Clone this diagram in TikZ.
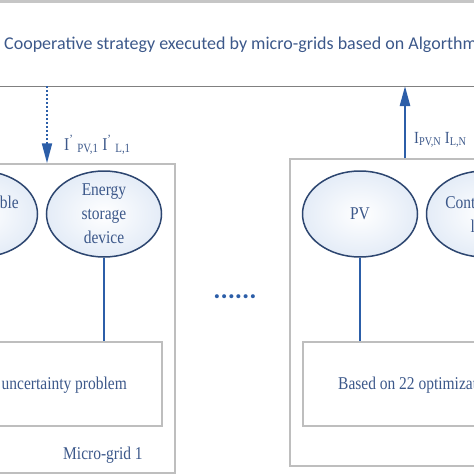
\documentclass[tikz,border=0pt]{standalone}
\usepackage{fontspec}
\setmainfont{Liberation Serif}[FakeStretch=0.86]
\newfontfamily\titlefont{Carlito}
\usetikzlibrary{arrows.meta,shapes,positioning}
\definecolor{txtblue}{RGB}{60,88,138}
\definecolor{lineblue}{RGB}{44,94,168}
\definecolor{ellblue}{RGB}{45,70,112}
\definecolor{boxgray}{RGB}{190,190,190}
\definecolor{fillblue}{RGB}{228,236,247}

\begin{document}
\begin{tikzpicture}[x=1pt,y=-1pt,>={Triangle[length=20pt,width=10pt]},
 unit/.style={ellipse,draw=ellblue,line width=1.5pt,inner color=white,outer color=fillblue,minimum width=115pt,minimum height=86pt,inner sep=0pt,align=center,text=txtblue,font=\fontsize{18}{24}\selectfont},
 grid/.style={draw=boxgray,line width=1.5pt,inner sep=0pt},
 link/.style={draw=lineblue,line width=2.5pt},
 txt/.style={text=txtblue,font=\fontsize{18}{22}\selectfont,inner sep=0pt}]
\useasboundingbox (0,0) rectangle (474,474);
\clip (0,0) rectangle (474,474);
\fill[gray!45] (0,0) rectangle (474,2.5);
\node[txt,font=\titlefont\fontsize{18}{24}\selectfont,anchor=west] (title) at (4,45) {Cooperative strategy executed by micro-grids based on Algorthm1};
\draw[gray,line width=1pt] (0,86) -- (474,86);
\coordinate (in1) at (47,86);
\coordinate (outN) at (405,86);
\node[grid,minimum width=235pt,minimum height=309pt] (mg1) at (57.5,318.5) {};
\node[grid,minimum width=270pt,minimum height=307pt] (mgN) at (425,312.5) {};
\node[grid,minimum width=222pt,minimum height=84pt] (opt1) at (51,384) {};
\node[grid,minimum width=257pt,minimum height=84pt] (optN) at (431.5,384) {};
\node[unit] (load1) at (-20,214) {Controllable\\load};
\node[unit] (ess) at (104,214) {Energy\\storage\\device};
\node[unit] (pv) at (360,214) {PV};
\node[unit] (loadN) at (484,214) {Controllable\\load};
\draw[link] (ess.south) -- (opt1.north -| ess);
\draw[link] (pv.south) -- (optN.north -| pv);
\draw[link,->,line width=2pt,dash pattern=on 2pt off 2pt] (in1) -- (mg1.north -| in1);
\draw[link,->] (mgN.north -| outN) -- (outN);
\node[txt,font=\fontsize{18}{20}\selectfont,anchor=west] (lab1) at (64,145) {I\textsuperscript{'}\ \textsubscript{PV,1} I\textsuperscript{'}\ \textsubscript{L,1}};
\node[txt,font=\fontsize{17}{20}\selectfont,anchor=west] (labN) at (414,140) {I\textsubscript{PV,N} I\textsubscript{L,N}};
\node[txt,anchor=east] (unc) at (127,385) {uncertainty problem};
\node[txt,anchor=west] (based) at (338,385) {Based on 22 optimization};
\node[txt,anchor=west] (name1) at (63,455) {Micro-grid 1};
\node[txt,font=\titlefont\bfseries\fontsize{27}{27}\selectfont,text=lineblue] (dots) at (235,297) {......};
\end{tikzpicture}
\end{document}
